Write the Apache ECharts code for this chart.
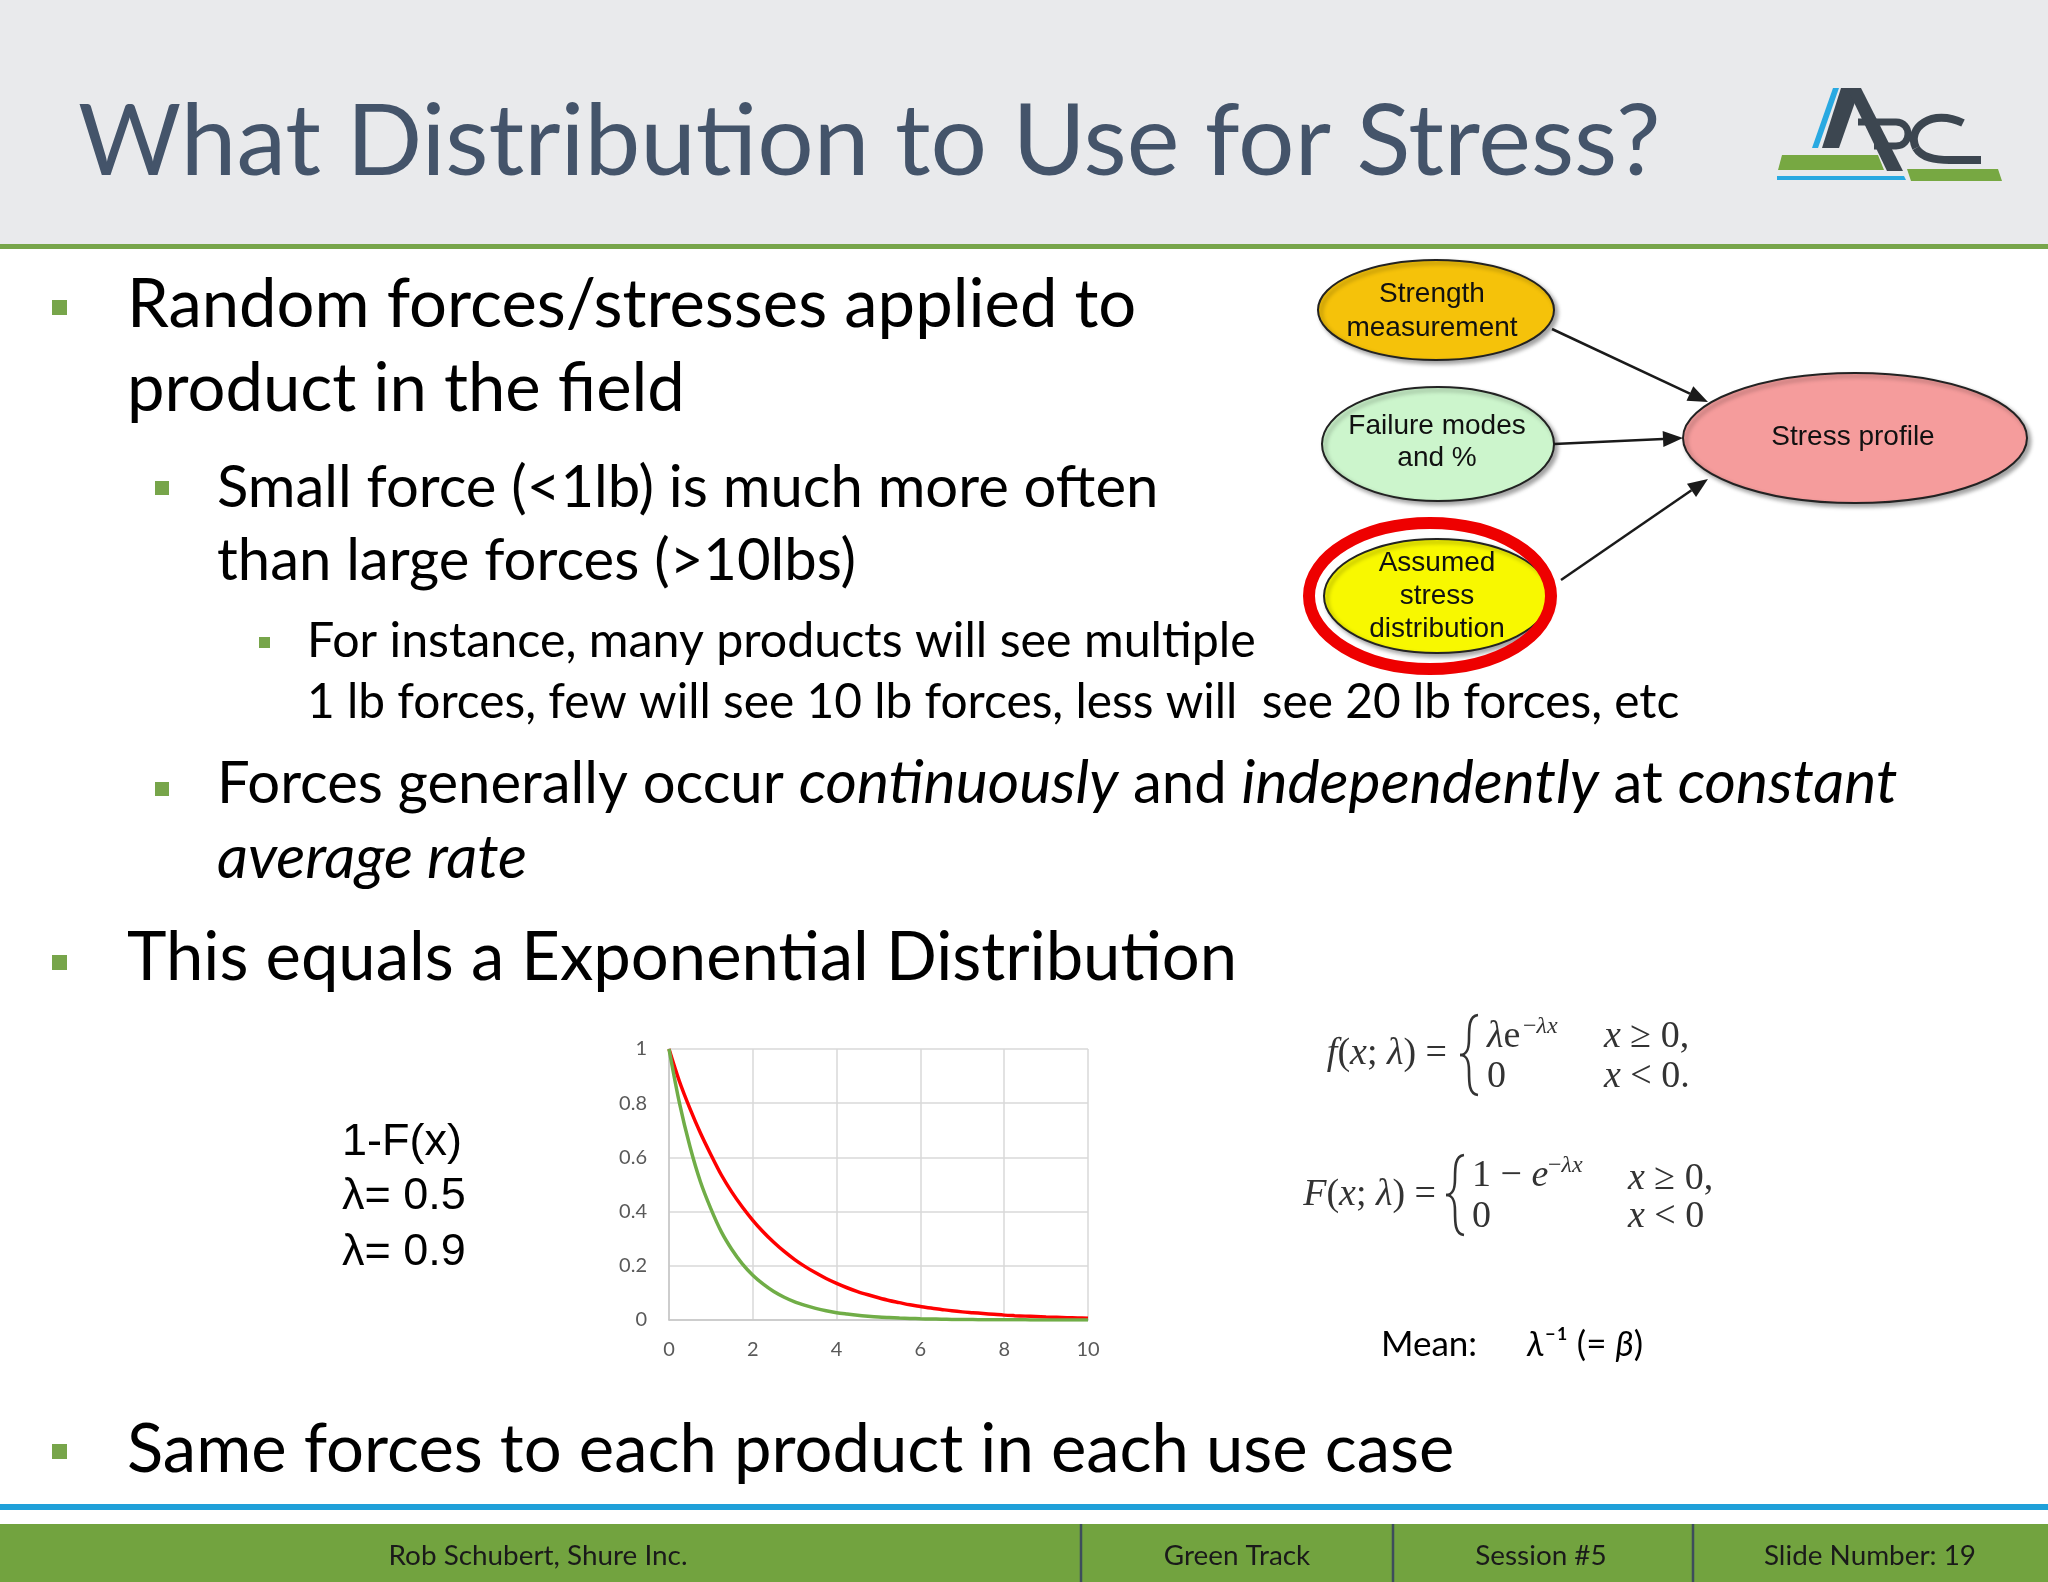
<!DOCTYPE html>
<html><head><meta charset="utf-8">
<script src="https://cdn.jsdelivr.net/npm/echarts@6/dist/echarts.min.js"></script>
<style>html,body{margin:0;padding:0;background:#fff}#c{width:2048px;height:1582px}</style>
</head><body><div id="c"></div>
<script>
// ---- data ----
const xValues = [0,0.25,0.5,0.75,1,1.25,1.5,1.75,2,2.25,2.5,2.75,3,3.25,3.5,3.75,4,4.25,4.5,4.75,5,5.25,5.5,5.75,6,6.25,6.5,6.75,7,7.25,7.5,7.75,8,8.25,8.5,8.75,9,9.25,9.5,9.75,10];
const seriesLambda05 = [1,0.88,0.78,0.69,0.61,0.535,0.472,0.417,0.368,0.325,0.287,0.253,0.223,0.197,0.174,0.153,0.135,0.119,0.105,0.093,0.082,0.072,0.064,0.056,0.05,0.044,0.039,0.034,0.03,0.027,0.024,0.021,0.018,0.016,0.0143,0.0126,0.011,0.0098,0.0087,0.0076,0.0067];
const seriesLambda09 = [1,0.8,0.64,0.51,0.41,0.325,0.26,0.207,0.165,0.132,0.105,0.084,0.067,0.054,0.043,0.034,0.027,0.022,0.0175,0.014,0.011,0.0089,0.007,0.0057,0.0045,0.0036,0.0029,0.0023,0.0018,0.0015,0.0012,0.0009,0.0007,0.0006,0.0005,0.0004,0.0003,0.00024,0.0002,0.00015,0.0001];
const chartLabels = ['1-F(x)', 'λ= 0.5', 'λ= 0.9'];
const titleText = 'What Distribution to Use for Stress?';
const footerTexts = ['Rob Schubert, Shure Inc.', 'Green Track', 'Session #5', 'Slide Number: 19'];
const diagramStrength = ['Strength', 'measurement'];
const diagramFailure = ['Failure modes', 'and %'];
const diagramAssumed = ['Assumed', 'stress', 'distribution'];
const diagramProfile = ['Stress profile'];

// ---- helpers ----
const mctx = document.createElement('canvas').getContext('2d');
function fit(text, family, target, style) {
  mctx.font = (style || 'normal') + ' normal 100px ' + family;
  return 100 * target / mctx.measureText(text).width;
}
const K = { 'Lato': 0.33, 'Liberation Sans': 0.33, 'Liberation Serif': 0.32 };
function txt(x, baseline, text, size, o) {
  o = o || {};
  const fam = o.family || 'Lato';
  const st = {
    text: text, fontSize: size, fontFamily: fam,
    fontStyle: o.italic ? 'italic' : 'normal', fontWeight: o.weight || 'normal',
    fill: o.color || '#000', align: o.align || 'left', verticalAlign: 'middle'
  };
  if (o.rich) st.rich = o.rich;
  return { type: 'text', x: x, y: o.center ? baseline : baseline - K[fam] * size, silent: true, style: st, z: 10 };
}
function rect(x, y, w, h, fill) { return { type: 'rect', shape: { x: x, y: y, width: w, height: h }, style: { fill: fill }, silent: true }; }
function poly(pts, fill) { return { type: 'polygon', shape: { points: pts }, style: { fill: fill }, silent: true, z: 5 }; }
function ln(x1, y1, x2, y2, color, w) { return { type: 'line', shape: { x1: x1, y1: y1, x2: x2, y2: y2 }, style: { stroke: color, lineWidth: w }, silent: true, z: 5 }; }
function bez(p, color, w) { return { type: 'bezierCurve', shape: { x1: p[0], y1: p[1], cpx1: p[2], cpy1: p[3], cpx2: p[4], cpy2: p[5], x2: p[6], y2: p[7] }, style: { stroke: color, lineWidth: w, fill: null }, silent: true, z: 6 }; }
function ell(cx, cy, rx, ry, fill, stroke, w, shadow) {
  const s = { fill: fill, stroke: stroke, lineWidth: w };
  if (shadow) { s.shadowColor = 'rgba(0,0,0,0.35)'; s.shadowBlur = 4; s.shadowOffsetX = 3; s.shadowOffsetY = 3; }
  return { type: 'ellipse', shape: { cx: cx, cy: cy, rx: rx, ry: ry }, style: s, silent: true, z: 4 };
}
function arrow(x1, y1, x2, y2) {
  const dx = x2 - x1, dy = y2 - y1, L = Math.hypot(dx, dy), ux = dx / L, uy = dy / L;
  const hl = 20, hw = 8;
  const bx = x2 - ux * hl, by = y2 - uy * hl;
  return [ln(x1, y1, bx, by, '#1a1a1a', 2.5),
    poly([[x2, y2], [bx - uy * hw, by + ux * hw], [bx + uy * hw, by - ux * hw]], '#1a1a1a')];
}
function brace(x, top, bottom, w) {
  const mid = (top + bottom) / 2, xr = x + 18, xm = x + 9;
  return [
    bez([xr, top, xm, top + 1, xm, top + 12, xm, top + 24], '#333', w),
    bez([xm, top + 24, xm, mid - 8, xm - 1, mid, x, mid], '#333', w),
    bez([x, mid, xm - 1, mid, xm, mid + 8, xm, bottom - 24], '#333', w),
    bez([xm, bottom - 24, xm, bottom - 12, xm, bottom - 1, xr, bottom], '#333', w)
  ];
}

// ---- sizes ----
const titleSize = fit(titleText, 'Lato', 1583);
const l1 = (fit('Random forces/stresses applied to', 'Lato', 1016) + fit('This equals a Exponential Distribution', 'Lato', 1101) + fit('Same forces to each product in each use case', 'Lato', 1330)) / 3;
const l2 = (fit('Small force (<1lb) is much more often', 'Lato', 943) + fit('than large forces (>10lbs)', 'Lato', 638)) / 2;
const l3 = fit('For instance, many products will see multiple', 'Lato', 949);
const footSize = fit(footerTexts[0], 'Lato', 299);

const G = [];
// header
G.push(rect(0, 0, 2048, 244, '#e9eaec'));
G.push(rect(0, 244, 2048, 5, '#77a54a'));
G.push(txt(78, 176, titleText, titleSize, { color: '#44546a' }));
// logo
G.push(poly([[1833, 88], [1839, 88], [1818, 148], [1812, 148]], '#29a9e1'));
G.push(poly([[1841, 88], [1860, 88], [1839, 148], [1822, 148]], '#3c4650'));
G.push(poly([[1847, 88], [1861, 88], [1903, 171], [1887, 171]], '#3c4650'));
G.push(ln(1858, 122, 1896, 122, '#3c4650', 7));
G.push(bez([1896, 122, 1912, 122, 1912, 146, 1896, 146], '#3c4650', 7));
G.push(ln(1896, 146, 1874, 146, '#3c4650', 7));
G.push(bez([1963, 123, 1932, 108, 1906, 128, 1916, 148], '#3c4650', 8));
G.push(bez([1916, 148, 1922, 158, 1935, 160, 1950, 160], '#3c4650', 8));
G.push(ln(1948, 160, 1981, 160, '#3c4650', 8));
G.push(poly([[1782, 155], [1878, 155], [1884, 170], [1778, 170]], '#77a842'));
G.push(poly([[1777, 176], [1904, 176], [1906, 180], [1777, 180]], '#29a9e1'));
G.push(poly([[1907, 169], [1998, 169], [2002, 181], [1911, 181]], '#77a842'));

// bullets
const green = '#77a54a';
[[52, 300], [52, 955], [52, 1444]].forEach(p => G.push(rect(p[0], p[1], 15, 15, green)));
[[155, 481], [155, 782]].forEach(p => G.push(rect(p[0], p[1], 14, 14, green)));
G.push(rect(259, 637, 11, 11, green));

G.push(txt(127, 327, 'Random forces/stresses applied to', l1));
G.push(txt(127, 411, 'product in the field', l1));
G.push(txt(217, 507, 'Small force (<1lb) is much more often', l2));
G.push(txt(217, 580, 'than large forces (>10lbs)', l2));
G.push(txt(307, 657, 'For instance, many products will see multiple', l3));
G.push(txt(307, 718, '1 lb forces, few will see 10 lb forces, less will  see 20 lb forces, etc', l3 * 0.99));
const rn = { fontSize: l2, fontFamily: 'Lato', fill: '#000' };
const ri = { fontSize: l2 * 1.045, fontFamily: 'Lato', fill: '#000', fontStyle: 'italic' };
G.push(txt(217, 803, '{n|Forces generally occur }{i|continuously}{n| and }{i|independently}{n| at }{i|constant}', l2, { rich: { n: rn, i: ri } }));
G.push(txt(217, 878, 'average rate', l2 * 1.045, { italic: true }));
G.push(txt(127, 980, 'This equals a Exponential Distribution', l1));
G.push(txt(127, 1472, 'Same forces to each product in each use case', l1));

// diagram
G.push(ell(1436, 310, 118, 50, '#f5c20a', '#222', 2, true));
G.push(ell(1438, 444, 116, 57, '#ccf5cc', '#222', 2, true));
G.push(ell(1437, 596, 113, 57, '#f8f800', '#222', 2, true));
G.push(ell(1855, 438, 172, 65, '#f59c9c', '#222', 2, true));
G.push(ell(1430, 596, 121, 73, null, '#ee0000', 12, false));
arrow(1552, 329, 1708, 402).forEach(e => G.push(e));
arrow(1554, 444, 1683, 438).forEach(e => G.push(e));
arrow(1561, 580, 1708, 479).forEach(e => G.push(e));
const ds = 28;
diagramStrength.forEach((t, i) => G.push(txt(1432, 294 + i * 34, t, ds, { family: 'Liberation Sans', align: 'center', center: true, color: '#111' })));
diagramFailure.forEach((t, i) => G.push(txt(1437, 426 + i * 32, t, ds, { family: 'Liberation Sans', align: 'center', center: true, color: '#111' })));
diagramAssumed.forEach((t, i) => G.push(txt(1437, 563 + i * 33, t, ds, { family: 'Liberation Sans', align: 'center', center: true, color: '#111' })));
G.push(txt(1853, 437, diagramProfile[0], ds, { family: 'Liberation Sans', align: 'center', center: true, color: '#111' }));

// chart side labels
chartLabels.forEach((t, i) => G.push(txt(342, [1157, 1211, 1267][i], t, 45, { family: 'Liberation Sans', color: '#000' })));

// formulas
const fs = 38, ss = 24, serif = 'Liberation Serif', fc = '#333';
const mi = { fontSize: fs, fontFamily: serif, fontStyle: 'italic', fill: fc };
const mn = { fontSize: fs, fontFamily: serif, fill: fc };
const si = Object.assign({}, mi, { fontSize: ss }), sn = Object.assign({}, mn, { fontSize: ss });
G.push(txt(1447, 1066, '{i|f}{n|(}{i|x}{n|; }{i|λ}{n|) =}', fs, { family: serif, align: 'right', rich: { i: mi, n: mn } }));
brace(1460, 1015, 1095, 2.6).forEach(e => G.push(e));
G.push(txt(1487, 1049, '{i|λ}{n|e}', fs, { family: serif, rich: { i: mi, n: mn } }));
G.push(txt(1523, 1034, '{n|−}{i|λx}', ss, { family: serif, rich: { i: si, n: sn } }));
G.push(txt(1604, 1049, '{i|x}{n| ≥ 0,}', fs, { family: serif, rich: { i: mi, n: mn } }));
G.push(txt(1487, 1089, '0', fs, { family: serif, color: fc }));
G.push(txt(1604, 1089, '{i|x}{n| < 0.}', fs, { family: serif, rich: { i: mi, n: mn } }));

G.push(txt(1436, 1207, '{i|F}{n|(}{i|x}{n|; }{i|λ}{n|) =}', fs, { family: serif, align: 'right', rich: { i: mi, n: mn } }));
brace(1446, 1155, 1235, 2.6).forEach(e => G.push(e));
G.push(txt(1472, 1188, '{n|1 − }{i|e}', fs, { family: serif, rich: { i: mi, n: mn } }));
G.push(txt(1548, 1173, '{n|−}{i|λx}', ss, { family: serif, rich: { i: si, n: sn } }));
G.push(txt(1628, 1191, '{i|x}{n| ≥ 0,}', fs, { family: serif, rich: { i: mi, n: mn } }));
G.push(txt(1472, 1229, '0', fs, { family: serif, color: fc }));
G.push(txt(1628, 1229, '{i|x}{n| < 0}', fs, { family: serif, rich: { i: mi, n: mn } }));

const ms = 35;
G.push(txt(1381, 1356, 'Mean:', ms));
G.push(txt(1527, 1356, '{i|λ}{n|⁻¹ (= }{i|β}{n|)}', ms, { rich: { i: { fontSize: ms, fontFamily: 'Lato', fontStyle: 'italic', fill: '#000' }, n: { fontSize: ms, fontFamily: 'Lato', fill: '#000' } } }));

// footer
G.push(rect(0, 1504, 2048, 6, '#1fa0d9'));
G.push(rect(0, 1524, 2048, 58, '#72a33f'));
[1081, 1393, 1693].forEach(x => G.push(ln(x, 1524, x, 1582, '#3d4d5c', 2.5)));
[538, 1237, 1541, 1870].forEach((x, i) => G.push(txt(x, 1565, footerTexts[i], footSize, { align: 'center', color: '#1a1a1a' })));

// ---- chart ----
const chart = echarts.init(document.getElementById('c'));
const pairs = arr => xValues.map((x, i) => [x, arr[i]]);
const axisLabel = { fontSize: 20, color: '#595959', fontFamily: 'Lato' };
chart.setOption({
  backgroundColor: '#ffffff',
  animation: false,
  grid: { left: 669, top: 1049, width: 419, height: 271 },
  xAxis: { type: 'value', min: 0, max: 10, interval: 2,
    axisLine: { show: true, lineStyle: { color: '#c6c6c6', width: 1.5 } }, axisTick: { show: false },
    axisLabel: Object.assign({ margin: 20 }, axisLabel),
    splitLine: { show: true, lineStyle: { color: '#d9d9d9', width: 1.5 } } },
  yAxis: { type: 'value', min: 0, max: 1, interval: 0.2,
    axisLine: { show: true, lineStyle: { color: '#c6c6c6', width: 1.5 } }, axisTick: { show: false },
    axisLabel: Object.assign({ margin: 22 }, axisLabel),
    splitLine: { show: true, lineStyle: { color: '#d9d9d9', width: 1.5 } } },
  series: [
    { name: 'λ=0.5', type: 'line', data: pairs(seriesLambda05), smooth: 0.3, symbol: 'none', lineStyle: { color: '#ff0000', width: 3.5 }, z: 3 },
    { name: 'λ=0.9', type: 'line', data: pairs(seriesLambda09), smooth: 0.3, symbol: 'none', lineStyle: { color: '#70ad47', width: 3.5 }, z: 4 }
  ],
  graphic: { elements: G }
});
</script></body></html>
